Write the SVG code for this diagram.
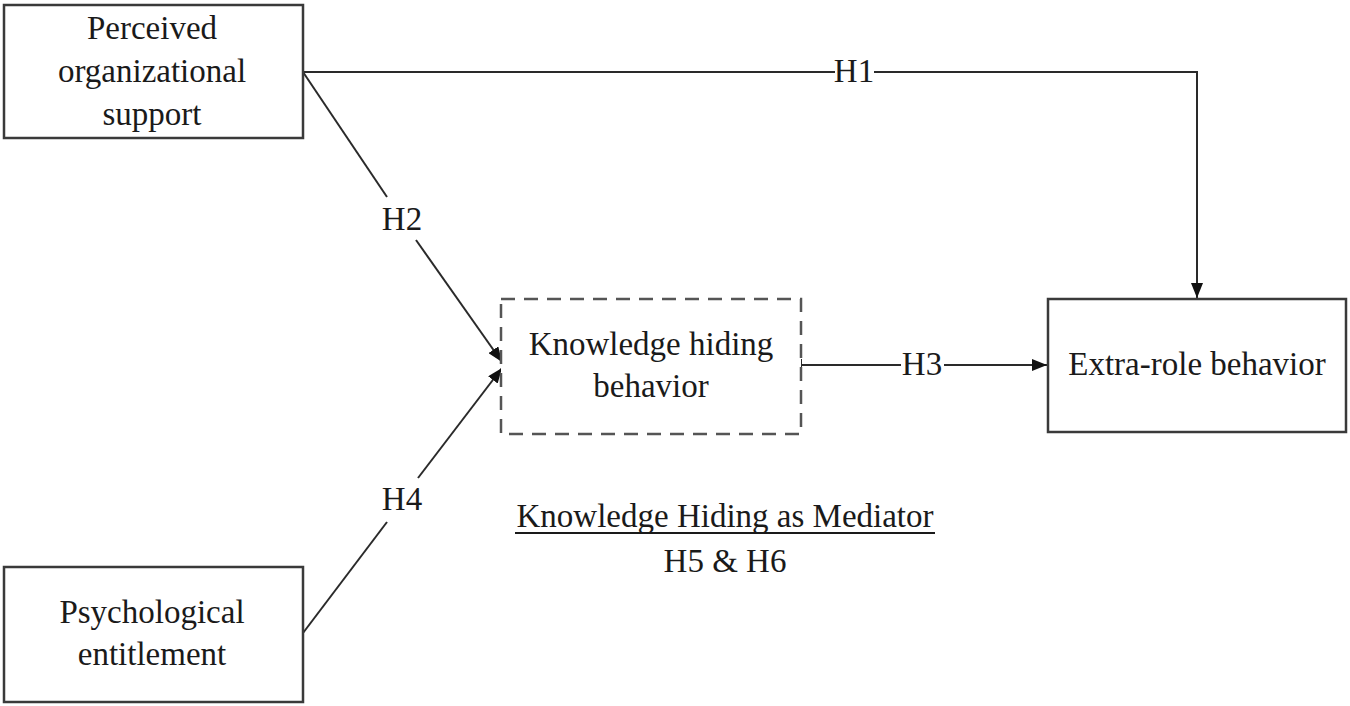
<svg xmlns="http://www.w3.org/2000/svg" width="1350" height="706" viewBox="0 0 1350 706">
<style>
.box{fill:#fff;stroke:#3a3a3a;stroke-width:2.5}
.dash{fill:#fff;stroke:#555;stroke-width:2.5;stroke-dasharray:14 9}
.ln{fill:none;stroke:#2a2a2a;stroke-width:2}
text{font-family:"Liberation Serif","Times New Roman",serif;font-size:33px;fill:#1a1a1a;text-anchor:middle}
</style>
<defs>
<marker id="ah" viewBox="0 0 15 12" refX="15" refY="6" markerWidth="15" markerHeight="12" markerUnits="userSpaceOnUse" orient="auto">
<path d="M0,0 L15,6 L0,12 Z" fill="#111"/>
</marker>
</defs>
<rect width="1350" height="706" fill="#fff"/>
<g id="connectors">
<polyline class="ln" points="303,72 835,72"/>
<polyline class="ln" points="874,72 1197,72 1197,298" marker-end="url(#ah)"/>
<line class="ln" x1="303" y1="72" x2="387" y2="197"/>
<line class="ln" x1="416" y1="240" x2="502" y2="362" marker-end="url(#ah)"/>
<line class="ln" x1="303" y1="633" x2="387" y2="522"/>
<line class="ln" x1="418" y1="478" x2="502" y2="368" marker-end="url(#ah)"/>
<line class="ln" x1="801" y1="365" x2="901" y2="365"/>
<line class="ln" x1="801" y1="359" x2="801" y2="371"/>
<line class="ln" x1="944" y1="365" x2="1047" y2="365" marker-end="url(#ah)"/>
<text x="854" y="82">H1</text>
<text x="402" y="230">H2</text>
<text x="922" y="375">H3</text>
<text x="402" y="510">H4</text>
</g>
<g id="pos">
<rect class="box" x="4" y="5" width="299" height="133"/>
<text x="152" y="39">Perceived</text>
<text x="152" y="82">organizational</text>
<text x="152" y="125">support</text>
</g>
<g id="pe">
<rect class="box" x="4" y="567" width="299" height="135"/>
<text x="152" y="623">Psychological</text>
<text x="152" y="665">entitlement</text>
</g>
<g id="khb">
<rect class="dash" x="501" y="299" width="300" height="135"/>
<text x="651" y="355">Knowledge hiding</text>
<text x="651" y="397">behavior</text>
</g>
<g id="erb">
<rect class="box" x="1048" y="299" width="298" height="133"/>
<text x="1197" y="375">Extra-role behavior</text>
</g>
<g id="mediator">
<text x="725" y="527">Knowledge Hiding as Mediator</text>
<line x1="515" y1="533" x2="935" y2="533" stroke="#1a1a1a" stroke-width="2"/>
<text x="725" y="572">H5 &amp; H6</text>
</g>
</svg>
